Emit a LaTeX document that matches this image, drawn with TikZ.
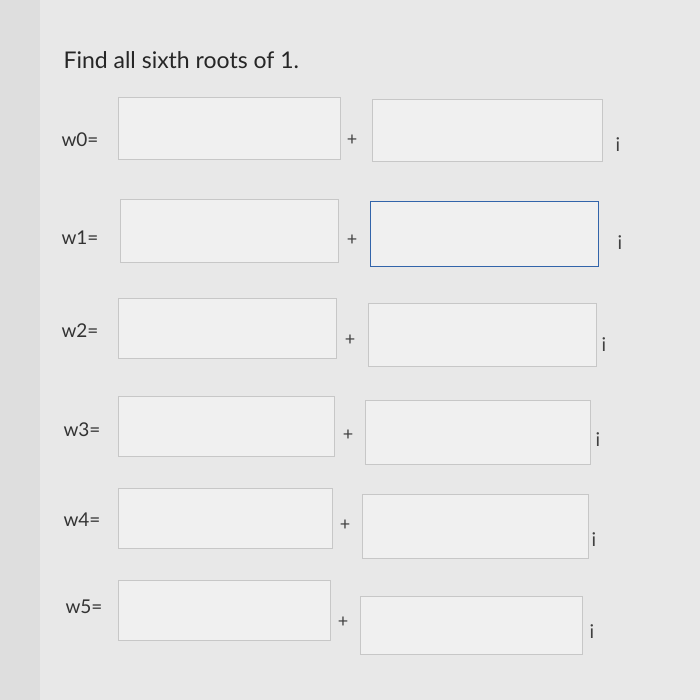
\documentclass[tikz,border=0pt]{standalone}
\usepackage{fontspec}
\setmainfont{Lato}
\usetikzlibrary{fit}
\definecolor{focus}{RGB}{50,100,170}
\begin{document}
\begin{tikzpicture}[x=1pt,y=-1pt,
  lbl/.style={anchor=west,font=\fontsize{19}{22}\selectfont,text=black!80},
  fld/.style={draw=black!22,fill=black!6,line width=1pt,inner sep=0pt},
  pls/.style={font=\fontsize{18}{20}\selectfont,text=black!75},
  imag/.style={font=\fontsize{19}{22}\selectfont,text=black!75}]
\useasboundingbox (0,0) rectangle (700,700);
\fill[black!9] (0,0) rectangle (700,700);
\fill[black!13] (0,0) rectangle (40,700);
\node[anchor=west,font=\fontsize{23}{26}\selectfont,text=black!85] (title) at (60,60) {Find all sixth roots of 1.};
\foreach \n/\ly/\lx/\ax/\ay/\bx/\by/\px/\py/\cx/\cy/\dx/\dy/\ix/\iy/\bc in {
 0/140/58/118/98/340/160/352/140/372/100/602/162/618/145/black!22,
 1/238/58/120/200/338/262/352/240/370/202/598/266/620/243/focus,
 2/331/58/118/298/336/358/350/340/368/303/596/366/604/345/black!22,
 3/430/60/118/396/334/456/348/435/365/400/590/464/598/440/black!22,
 4/520/60/118/488/332/548/345/525/362/494/588/558/594/540/black!22,
 5/607/62/118/580/330/640/343/622/360/596/582/654/592/632/black!22}{
  \node[lbl] (l\n) at (\lx,\ly) {w\n=};
  \node[fld,fit={(\ax,\ay) (\bx,\by)}] (a\n) {};
  \node[pls] (p\n) at (\px,\py) {+};
  \node[fld,draw=\bc,fit={(\cx,\cy) (\dx,\dy)}] (b\n) {};
  \node[imag] (i\n) at (\ix,\iy) {i};
}
\end{tikzpicture}
\end{document}
